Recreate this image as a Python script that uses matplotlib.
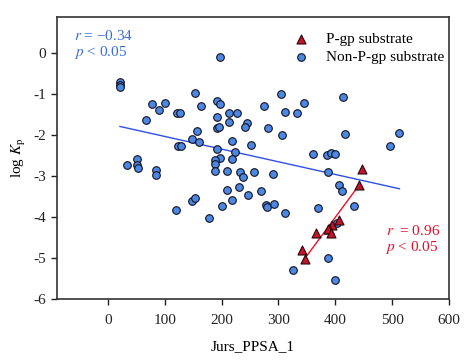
import numpy as np
import matplotlib
matplotlib.use("Agg")
import matplotlib.pyplot as plt

plt.rcParams['font.family'] = ['Liberation Serif', 'DejaVu Serif']
plt.rcParams['mathtext.fontset'] = 'stix'
plt.rcParams['axes.unicode_minus'] = False

# non P-gp substrates (Jurs_PPSA_1, log Kp)
non_x = [21, 21, 21, 77, 100, 90, 121, 126, 66, 124, 128, 33, 51, 51, 53, 84, 84, 120,
         197, 153, 192, 198, 164, 305, 345, 275, 311, 332, 213, 227, 191, 213, 244, 241,
         192, 196, 281, 157, 306, 148, 160, 218, 252, 192, 224, 360, 197, 188, 188, 188,
         218, 209, 232, 238, 257, 291, 210, 230, 269, 246, 219, 147, 154, 200, 278, 279,
         293, 311, 177, 326, 369, 388, 407, 411, 433, 403, 387, 400, 414, 417, 512, 497,
         386, 393, 400]
non_y = [-0.70, -0.78, -0.83, -1.24, -1.23, -1.38, -1.46, -1.46, -1.63, -2.26, -2.26, -2.73,
         -2.59, -2.73, -2.80, -2.86, -2.97, -3.84,
         -0.10, -0.97, -1.18, -1.24, -1.28, -0.99, -1.22, -1.29, -1.44, -1.46, -1.45, -1.46,
         -1.57, -1.68, -1.71, -1.80, -1.83, -1.81, -1.83, -1.89, -2.00, -2.10, -2.16, -2.15,
         -2.24, -2.35, -2.41, -2.46, -2.55, -2.60, -2.70, -2.87, -2.59, -2.87, -2.90, -3.02,
         -2.89, -2.95, -3.35, -3.27, -3.37, -3.46, -3.58, -3.62, -3.54, -3.72, -3.70, -3.75,
         -3.68, -3.89, -4.02, -5.29, -3.78, -2.91, -3.23, -3.36, -3.72, -4.14, -5.01, -5.53,
         -1.07, -1.98, -1.94, -2.27, -2.48, -2.44, -2.47]

# P-gp substrates
pgp_x = [447, 442, 407, 395, 389, 387, 393, 366, 342, 346]
pgp_y = [-2.82, -3.22, -4.07, -4.19, -4.29, -4.29, -4.39, -4.39, -4.81, -5.02]

# regression lines (end points)
non_fit_x = [21, 513]
non_fit_y = [-1.79, -3.31]
pgp_fit_x = [346, 442]
pgp_fit_y = [-5.02, -3.22]

x_ticks = [0, 100, 200, 300, 400, 500, 600]
y_ticks = [-6, -5, -4, -3, -2, -1, 0]

blue_fill = '#4a88e4'
red_fill = '#c4142c'

fig = plt.figure(figsize=(4.74, 3.62), dpi=100)
ax = fig.add_axes([0.120, 0.174, 0.827, 0.779])

ax.plot(non_fit_x, non_fit_y, color='#2f4fe8', lw=1.0, zorder=2)
ax.plot(pgp_fit_x, pgp_fit_y, color='#e8102a', lw=1.0, zorder=2)

ax.scatter(non_x, non_y, s=30, marker='o', facecolor=blue_fill, edgecolor='#111122',
           linewidths=0.8, zorder=3, label='Non-P-gp substrate')
ax.scatter(pgp_x, pgp_y, s=42, marker='^', facecolor=red_fill, edgecolor='#2a0808',
           linewidths=0.8, zorder=4, label='P-gp substrate')

ax.set_xlim(-90, 600)
ax.set_ylim(-6, 0.88)
ax.set_xticks(x_ticks)
ax.set_yticks(y_ticks)
ax.tick_params(direction='out', length=4, width=1, labelsize=11, colors='#222222')
ax.tick_params(axis='x', pad=7)
for sp in ax.spines.values():
    sp.set_linewidth(1.2)
    sp.set_color('#333333')

ax.set_xlabel('Jurs_PPSA_1', fontsize=11, labelpad=9)
ax.set_ylabel(r'log $K_\mathrm{p}$', fontsize=11, labelpad=4)

ax.text(-59, 0.32, r'$r$ = −0.34', color='#3a6ed8', fontsize=11)
ax.text(-59, -0.07, r'$p$ < 0.05', color='#3a6ed8', fontsize=11)
ax.text(489, -4.43, r'$r$  = 0.96', color='#e0102a', fontsize=11)
ax.text(487, -4.82, r'$p$ < 0.05', color='#e0102a', fontsize=11)

handles, labels = ax.get_legend_handles_labels()
ax.legend(handles[::-1], labels[::-1], loc='upper right', bbox_to_anchor=(1.015, 0.982),
          frameon=False, fontsize=11, handletextpad=0.6, labelspacing=0.25,
          borderaxespad=0.3)

fig.savefig('out.png', dpi=100)
